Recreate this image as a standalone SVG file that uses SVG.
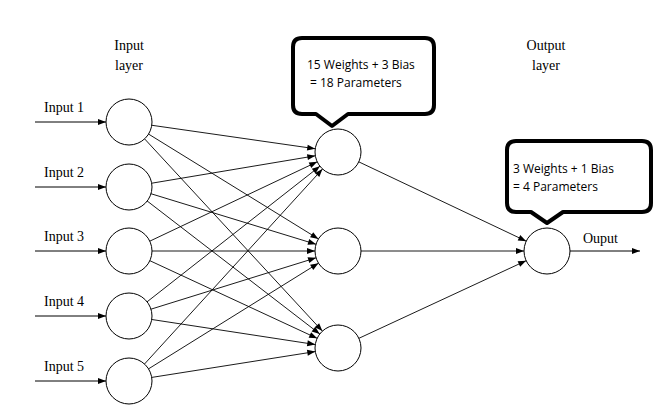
<svg xmlns="http://www.w3.org/2000/svg" width="658" height="413" viewBox="0 0 658 413">
<defs>
<marker id="a" markerUnits="userSpaceOnUse" orient="auto" overflow="visible" refX="23" refY="0" markerWidth="10" markerHeight="10"><path d="M-8,-3 L0,0 L-8,3 z" fill="#000"/></marker>
<marker id="b" markerUnits="userSpaceOnUse" orient="auto" overflow="visible" refX="0" refY="0" markerWidth="10" markerHeight="10"><path d="M-8,-3 L0,0 L-8,3 z" fill="#000"/></marker>
<style>
.e line{stroke:#000;stroke-width:0.9;marker-end:url(#a)}
.i{stroke:#000;stroke-width:1;marker-end:url(#b)}
circle{fill:#fff;stroke:#000;stroke-width:1}
.t{font-family:"Liberation Serif",serif;font-size:14px;fill:#000}
.c{font-family:"Open Sans","Liberation Sans",sans-serif;font-size:12px;fill:#000}
.b{fill:#fff;stroke:#000;stroke-width:4;stroke-linejoin:round}
</style>
</defs>
<rect width="658" height="413" fill="#fff"/>
<g id="connectors">
<line class="i" x1="35" y1="122" x2="106" y2="122"/>
<line class="i" x1="35" y1="187" x2="106" y2="187"/>
<line class="i" x1="35" y1="251" x2="106" y2="251"/>
<line class="i" x1="35" y1="316" x2="106" y2="316"/>
<line class="i" x1="35" y1="381" x2="106" y2="381"/>
<line class="i" x1="570" y1="251" x2="640" y2="251"/>
<g class="e">
<line x1="129" y1="122" x2="338" y2="152"/><line x1="129" y1="122" x2="338" y2="251"/><line x1="129" y1="122" x2="338" y2="348"/>
<line x1="129" y1="187" x2="338" y2="152"/><line x1="129" y1="187" x2="338" y2="251"/><line x1="129" y1="187" x2="338" y2="348"/>
<line x1="129" y1="251" x2="338" y2="152"/><line x1="129" y1="251" x2="338" y2="251"/><line x1="129" y1="251" x2="338" y2="348"/>
<line x1="129" y1="316" x2="338" y2="152"/><line x1="129" y1="316" x2="338" y2="251"/><line x1="129" y1="316" x2="338" y2="348"/>
<line x1="129" y1="381" x2="338" y2="152"/><line x1="129" y1="381" x2="338" y2="251"/><line x1="129" y1="381" x2="338" y2="348"/>
<line x1="338" y1="152" x2="547" y2="251"/><line x1="338" y1="251" x2="547" y2="251"/><line x1="338" y1="348" x2="547" y2="251"/>
</g>
</g>
<g id="in1"><circle cx="129" cy="122" r="23"/><text class="t" x="44" y="112">Input 1</text></g>
<g id="in2"><circle cx="129" cy="187" r="23"/><text class="t" x="44" y="177">Input 2</text></g>
<g id="in3"><circle cx="129" cy="251" r="23"/><text class="t" x="44" y="241">Input 3</text></g>
<g id="in4"><circle cx="129" cy="316" r="23"/><text class="t" x="44" y="306">Input 4</text></g>
<g id="in5"><circle cx="129" cy="381" r="23"/><text class="t" x="44" y="371">Input 5</text></g>
<g id="h1"><circle cx="338" cy="152" r="23"/></g>
<g id="h2"><circle cx="338" cy="251" r="23"/></g>
<g id="h3"><circle cx="338" cy="348" r="23"/></g>
<g id="out"><circle cx="547" cy="251" r="23"/><text class="t" x="583" y="243">Ouput</text></g>
<g id="labels">
<text class="t" x="129" y="50" text-anchor="middle">Input</text><text class="t" x="129" y="70" text-anchor="middle">layer</text>
<text class="t" x="546" y="50" text-anchor="middle">Output</text><text class="t" x="546" y="70" text-anchor="middle">layer</text>
</g>
<g id="callout1">
<path class="b" d="M306,38 H425 Q434,38 434,47 V105 Q434,114 425,114 H348 L332,126 L316,114 H302 Q293,114 293,105 V47 Q293,38 302,38 Z"/>
<text class="c" x="307" y="69">15 Weights + 3 Bias</text><text class="c" x="310" y="87">= 18 Parameters</text>
</g>
<g id="callout2">
<path class="b" d="M516,141 H642 Q651,141 651,150 V203 Q651,212 642,212 H563 L547,223 L531,212 H516 Q507,212 507,203 V150 Q507,141 516,141 Z"/>
<text class="c" x="513" y="173">3 Weights + 1 Bias</text><text class="c" x="513" y="191">= 4 Parameters</text>
</g>
</svg>
